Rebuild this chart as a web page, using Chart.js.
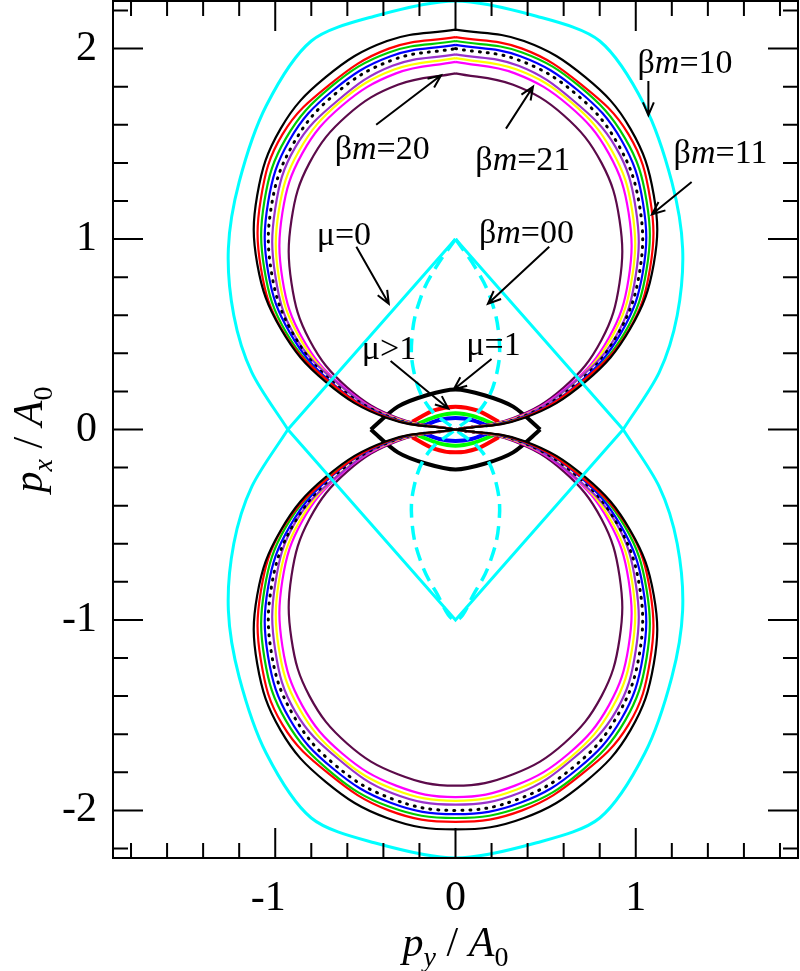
<!DOCTYPE html>
<html>
<head>
<meta charset="utf-8">
<script src="https://cdn.jsdelivr.net/npm/chart.js@4"></script>
<style>
  html, body { margin: 0; padding: 0; background: #fff; }
  #wrap { width: 800px; height: 971px; }
</style>
</head>
<body>
<div id="wrap"><canvas id="c" width="800" height="971"></canvas></div>
<script>
// ── Data ────────────────────────────────────────────────────────────────────
// right half of each upper lobe, from the top down to the origin
const lobeY = {
  black:  [2.10, 2.04, 1.85, 1.58, 1.23, 0.87, 0.53, 0.25, 0.06, 0],
  red:    [2.06, 2.00, 1.81, 1.55, 1.21, 0.85, 0.52, 0.25, 0.06, 0],
  green:  [2.04, 1.98, 1.80, 1.53, 1.20, 0.84, 0.51, 0.24, 0.06, 0],
  blue:   [2.02, 1.96, 1.78, 1.52, 1.19, 0.83, 0.51, 0.24, 0.06, 0],
  dotted: [2.00, 1.94, 1.76, 1.50, 1.18, 0.82, 0.50, 0.24, 0.06, 0],
  violet: [1.97, 1.91, 1.73, 1.48, 1.16, 0.81, 0.49, 0.24, 0.06, 0],
  yellow: [1.95, 1.89, 1.72, 1.46, 1.15, 0.80, 0.49, 0.23, 0.06, 0],
  magenta:[1.93, 1.87, 1.70, 1.45, 1.14, 0.79, 0.48, 0.23, 0.06, 0],
  plum:   [1.87, 1.81, 1.65, 1.40, 1.10, 0.77, 0.47, 0.22, 0.06, 0]
};
const lobeX = {
  black:  [0, 0.38, 0.72, 0.97, 1.10, 1.10, 0.97, 0.72, 0.38, 0],
  red:    [0, 0.37, 0.70, 0.96, 1.08, 1.08, 0.96, 0.70, 0.37, 0],
  green:  [0, 0.37, 0.69, 0.94, 1.06, 1.06, 0.94, 0.69, 0.37, 0],
  blue:   [0, 0.36, 0.68, 0.92, 1.04, 1.04, 0.92, 0.68, 0.36, 0],
  dotted: [0, 0.35, 0.67, 0.90, 1.02, 1.02, 0.90, 0.67, 0.35, 0],
  violet: [0, 0.35, 0.65, 0.89, 1.00, 1.00, 0.89, 0.65, 0.35, 0],
  yellow: [0, 0.34, 0.64, 0.87, 0.98, 0.98, 0.87, 0.64, 0.34, 0],
  magenta:[0, 0.33, 0.63, 0.85, 0.96, 0.96, 0.85, 0.63, 0.33, 0],
  plum:   [0, 0.32, 0.60, 0.81, 0.91, 0.91, 0.81, 0.60, 0.32, 0]
};

// μ=0: outer arc (right half, top to waist) and the straight diamond
const outerX = [0, 0.45, 0.80, 1.05, 1.20, 1.26, 1.23, 1.13, 0.93];
const outerY = [2.25, 2.17, 2.04, 1.70, 1.30, 0.95, 0.60, 0.30, 0];
const diamondX = [0, 0.93, 0, -0.93, 0];
const diamondY = [1, 0, -1, 0, 1];

// βm=00 dashed lens (right half of the upper lens)
const lensX = [0, 0.11, 0.19, 0.24, 0.23, 0.15, 0];
const lensY = [1, 0.85, 0.70, 0.50, 0.30, 0.12, 0];

// thick central arcs (upper arcs; lower ones mirrored)
const mu1X = [-0.47, -0.32, -0.16, 0, 0.16, 0.32, 0.47];
const mu1Y = [0, 0.12, 0.18, 0.21, 0.18, 0.12, 0];
const redArcX = [-0.24, -0.12, 0, 0.12, 0.24];
const redArcY = [0.04, 0.10, 0.12, 0.10, 0.04];
const greenArcX = [-0.21, -0.10, 0, 0.10, 0.21];
const greenArcY = [0.03, 0.07, 0.085, 0.07, 0.03];
const blueArcX = [-0.18, -0.09, 0, 0.09, 0.18];
const blueArcY = [0.02, 0.05, 0.06, 0.05, 0.02];

const xTicks = [-1, 0, 1];
const yTicks = [-2, -1, 0, 1, 2];

const labels = [
  { t: ['β', 'm', '=10'], x: 1.01, y: 1.87, a: [1.07, 1.83, 1.07, 1.65] },
  { t: ['β', 'm', '=20'], x: -0.67, y: 1.42, a: [-0.44, 1.60, -0.08, 1.86] },
  { t: ['β', 'm', '=21'], x: 0.11, y: 1.36, a: [0.28, 1.58, 0.43, 1.80] },
  { t: ['β', 'm', '=11'], x: 1.21, y: 1.40, a: [1.31, 1.30, 1.09, 1.13] },
  { t: ['μ=0'], x: -0.77, y: 0.97, a: [-0.55, 0.96, -0.37, 0.66] },
  { t: ['β', 'm', '=00'], x: 0.13, y: 0.98, a: [0.52, 0.96, 0.18, 0.66] },
  { t: ['μ>1'], x: -0.52, y: 0.37, a: [-0.36, 0.36, -0.04, 0.11] },
  { t: ['μ=1'], x: 0.06, y: 0.39, a: [0.20, 0.37, -0.01, 0.21] }
];

// ── Helpers ─────────────────────────────────────────────────────────────────

function figure8(xs, ys) {
  const pts = [];
  const n = xs.length;
  for (let i = 0; i < n; i++) pts.push({ x: xs[i], y: ys[i] });
  for (let i = n - 2; i >= 0; i--) pts.push({ x: -xs[i], y: -ys[i] });
  for (let i = 1; i < n; i++) pts.push({ x: xs[i], y: -ys[i] });
  for (let i = n - 2; i >= 0; i--) pts.push({ x: -xs[i], y: ys[i] });
  return pts;
}

function zip(xs, ys, sy = 1) {
  return xs.map((x, i) => ({ x, y: sy * ys[i] }));
}

function arcHalf(xs, ys, sy) {
  const pts = [];
  for (let i = xs.length - 1; i > 0; i--) pts.push({ x: -xs[i], y: sy * ys[i] });
  for (let i = 0; i < xs.length; i++) pts.push({ x: xs[i], y: sy * ys[i] });
  return pts;
}

function line(data, color, width, extra = {}) {
  return Object.assign({
    data, borderColor: color, borderWidth: width, showLine: true,
    pointRadius: 0, tension: 0.4, fill: false
  }, extra);
}

const lobeColors = {
  black: '#000000', red: '#ff0000', green: '#00cc00', blue: '#0000ff',
  dotted: '#000000', violet: '#9932cc', yellow: '#ffff00',
  magenta: '#ff00ff', plum: '#5c0a4a'
};

const datasets = [];
datasets.push(line(arcHalf(outerX, outerY, 1), '#00ffff', 3, { tension: 0.3 }));
datasets.push(line(arcHalf(outerX, outerY, -1), '#00ffff', 3, { tension: 0.3 }));
datasets.push(line(zip(diamondX, diamondY), '#00ffff', 3, { tension: 0 }));
Object.keys(lobeY).forEach(k => {
  const extra = k === 'dotted' ? { borderDash: [1, 7], borderCapStyle: 'round', borderWidth: 3 } : {};
  datasets.push(line(figure8(lobeX[k], lobeY[k]), lobeColors[k], 2.2, extra));
});
datasets.push(line(figure8(lensX, lensY), '#00ffff', 3.5, { borderDash: [14, 8] }));
[[mu1X, mu1Y, '#000000'], [redArcX, redArcY, '#ff0000'],
 [greenArcX, greenArcY, '#00ff00'], [blueArcX, blueArcY, '#0000ff']].forEach(([xs, ys, c]) => {
  datasets.push(line(zip(xs, ys, 1), c, 4, { tension: 0.3 }));
  datasets.push(line(zip(xs, ys, -1), c, 4, { tension: 0.3 }));
});

// ── Frame, ticks, texts, arrows ─────────────────────────────────────────────

const SERIF = '"Liberation Serif", "Times New Roman", serif';

function drawArrow(ctx, x1, y1, x2, y2) {
  ctx.beginPath();
  ctx.moveTo(x1, y1); ctx.lineTo(x2, y2);
  const ang = Math.atan2(y2 - y1, x2 - x1);
  const h = 14;
  ctx.moveTo(x2 - h * Math.cos(ang - 0.4), y2 - h * Math.sin(ang - 0.4));
  ctx.lineTo(x2, y2);
  ctx.lineTo(x2 - h * Math.cos(ang + 0.4), y2 - h * Math.sin(ang + 0.4));
  ctx.stroke();
}

function drawParts(ctx, parts, x, y) {
  let cx = x;
  parts.forEach(p => {
    ctx.font = (p === 'm' ? 'italic ' : '') + '34px ' + SERIF;
    ctx.fillText(p, cx, y);
    cx += ctx.measureText(p).width;
  });
}

const frame = {
  id: 'frame',
  afterDatasetsDraw(chart) {
    const { ctx, chartArea: a, scales: { x, y } } = chart;
    ctx.save();
    ctx.strokeStyle = '#000'; ctx.fillStyle = '#000'; ctx.lineWidth = 2;
    ctx.lineCap = 'butt';
    ctx.strokeRect(a.left, a.top, a.right - a.left, a.bottom - a.top);

    // ticks every 0.2, long at integers, on all four sides
    ctx.beginPath();
    for (let k = -9; k <= 9; k++) {
      const v = k / 5, len = k % 5 === 0 ? 30 : 15, px = x.getPixelForValue(v);
      ctx.moveTo(px, a.bottom); ctx.lineTo(px, a.bottom - len);
      ctx.moveTo(px, a.top); ctx.lineTo(px, a.top + len);
    }
    for (let k = -11; k <= 11; k++) {
      const v = k / 5, len = k % 5 === 0 ? 30 : 15, py = y.getPixelForValue(v);
      ctx.moveTo(a.left, py); ctx.lineTo(a.left + len, py);
      ctx.moveTo(a.right, py); ctx.lineTo(a.right - len, py);
    }
    ctx.stroke();

    ctx.font = '42px ' + SERIF;
    ctx.textAlign = 'center'; ctx.textBaseline = 'alphabetic';
    xTicks.forEach(v => ctx.fillText(v < 0 ? '-' + Math.abs(v) : String(v), x.getPixelForValue(v) - (v < 0 ? 7 : 0), a.bottom + 52));
    ctx.textAlign = 'right'; ctx.textBaseline = 'middle';
    yTicks.forEach(v => ctx.fillText(v < 0 ? '-' + Math.abs(v) : String(v), a.left - 16, y.getPixelForValue(v)));

    // axis titles
    ctx.textBaseline = 'alphabetic'; ctx.textAlign = 'left';
    const title = (cx, cy, sub) => {
      const parts = [['italic 42px ', 'p', 0], ['italic 28px ', sub, 10], ['42px ', ' / ', 0], ['italic 42px ', 'A', 0], ['28px ', '0', 10]];
      let w = 0;
      parts.forEach(([f, s]) => { ctx.font = f + SERIF; w += ctx.measureText(s).width; });
      let px = cx - w / 2;
      parts.forEach(([f, s, dy]) => { ctx.font = f + SERIF; ctx.fillText(s, px, cy + dy); px += ctx.measureText(s).width; });
    };
    title(x.getPixelForValue(0), a.bottom + 98, 'y');
    ctx.save();
    ctx.translate(42, y.getPixelForValue(0) + 10);
    ctx.rotate(-Math.PI / 2);
    title(0, 0, 'x');
    ctx.restore();

    // annotations
    ctx.lineWidth = 2;
    labels.forEach(l => {
      drawParts(ctx, l.t, x.getPixelForValue(l.x), y.getPixelForValue(l.y));
      drawArrow(ctx, x.getPixelForValue(l.a[0]), y.getPixelForValue(l.a[1]),
                x.getPixelForValue(l.a[2]), y.getPixelForValue(l.a[3]));
    });
    ctx.restore();
  }
};

function draw() {
  new Chart(document.getElementById('c'), {
    type: 'scatter',
    data: { datasets },
    options: {
      responsive: false,
      animation: false,
      layout: { padding: { left: 113, right: 2, top: 1, bottom: 113 } },
      plugins: { legend: { display: false }, tooltip: { enabled: false } },
      scales: {
        x: { type: 'linear', min: -1.9, max: 1.9, display: false },
        y: { type: 'linear', min: -2.25, max: 2.25, display: false }
      }
    },
    plugins: [frame]
  });
}

Promise.all([
  document.fonts.load('42px "Liberation Serif"'),
  document.fonts.load('italic 42px "Liberation Serif"')
]).then(draw, draw);
</script>
</body>
</html>
